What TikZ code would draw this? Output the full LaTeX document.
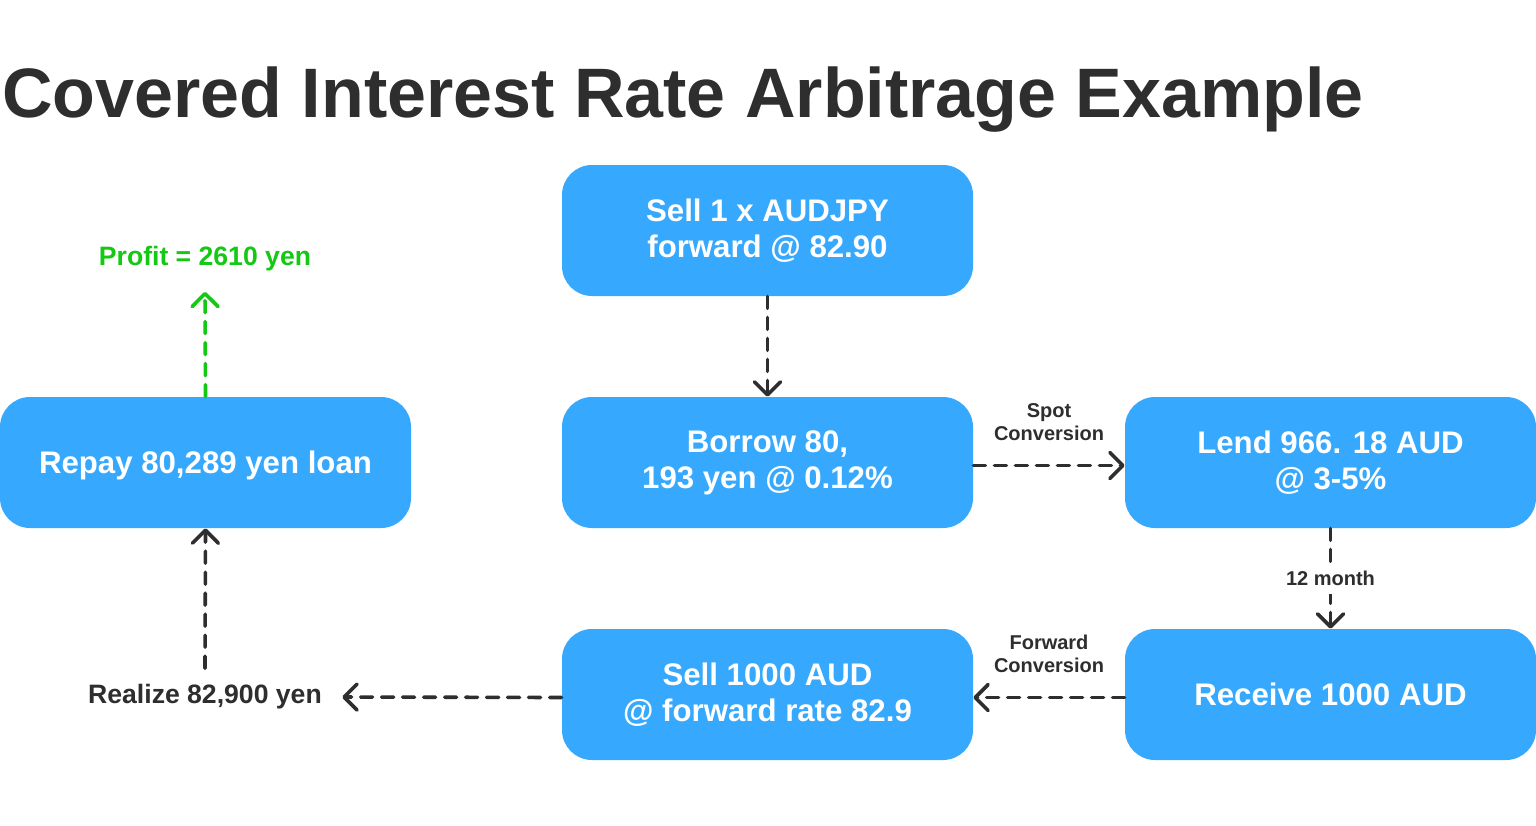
\documentclass[tikz,border=0pt]{standalone}
\usepackage{fontspec}
\setmainfont{Liberation Sans}
\usetikzlibrary{arrows.meta}
\definecolor{boxblue}{HTML}{36A9FE}
\definecolor{darkgray}{HTML}{2E2E2E}
\definecolor{profitgreen}{HTML}{14C814}
\begin{document}
\begin{tikzpicture}[x=0.5pt,y=-0.5pt,
  stepbox/.style={fill=boxblue, draw=none, rounded corners=15pt, minimum width=205.5pt, minimum height=65.5pt,
    text=white, align=center, font=\fontsize{15.6}{18}\selectfont\bfseries, inner sep=0pt},
  conn/.style={draw=darkgray, line width=1.8pt, dash pattern=on 6pt off 4.5pt, line cap=round,
    -{Straight Barb[length=6.5pt,width=13pt,line cap=round,line join=round]}},
  lbl/.style={font=\fontsize{10}{11.5}\selectfont\bfseries, text=darkgray, align=center},
  freetext/.style={font=\fontsize{13.3}{15}\selectfont\bfseries, align=center}
]
\useasboundingbox (0,0) rectangle (1536,825);
\fill[white] (0,0) rectangle (1536,825);

\node[anchor=base west, inner sep=0pt, font=\fontsize{35}{40}\selectfont\bfseries, text=darkgray] (title) at (2,117) {Covered Interest Rate Arbitrage Example};

\node[stepbox] (sellfwd) at (767.5,230.5) {Sell 1 x AUDJPY\\forward @ 82.90};
\node[stepbox] (borrow) at (767.5,462.5) {Borrow 80,\\193 yen @ 0.12\%};
\node[stepbox] (lend) at (1330.5,462.5) {Lend 966. 18 AUD\\@ 3-5\%};
\node[stepbox] (receive) at (1330.5,694.5) {Receive 1000 AUD};
\node[stepbox] (sellaud) at (767.5,694.5) {Sell 1000 AUD\\@ forward rate 82.9};
\node[stepbox, text depth=0pt] (repay) at (205.5,462.5) {Repay 80,289 yen loan};

\node[freetext, text=darkgray, inner xsep=10pt, inner ysep=8pt] (realize) at (205,697) {Realize 82,900 yen};
\node[freetext, text=profitgreen, inner xsep=4pt, inner ysep=10pt] (profit) at (205,259) {Profit = 2610 yen};

\draw[conn] (sellfwd.south) -- (borrow.north);
\draw[conn] ([yshift=-1.5pt]borrow.east) -- ([yshift=-1.5pt]lend.west)
  node[lbl, midway, above=8pt] {Spot\\Conversion};
\draw[conn] (lend.south) -- (receive.north)
  node[lbl, midway, fill=white, inner sep=4pt] {12 month};
\draw[conn] ([yshift=-1.5pt]receive.west) -- ([yshift=-1.5pt]sellaud.east)
  node[lbl, midway, above=8pt] {Forward\\Conversion};
\draw[conn] ([yshift=-1.5pt]sellaud.west) -- (realize.east |- 0,697);
\draw[conn] (realize.north) -- (repay.south);
\draw[conn, draw=profitgreen] (repay.north) -- (profit.south);
\end{tikzpicture}
\end{document}
